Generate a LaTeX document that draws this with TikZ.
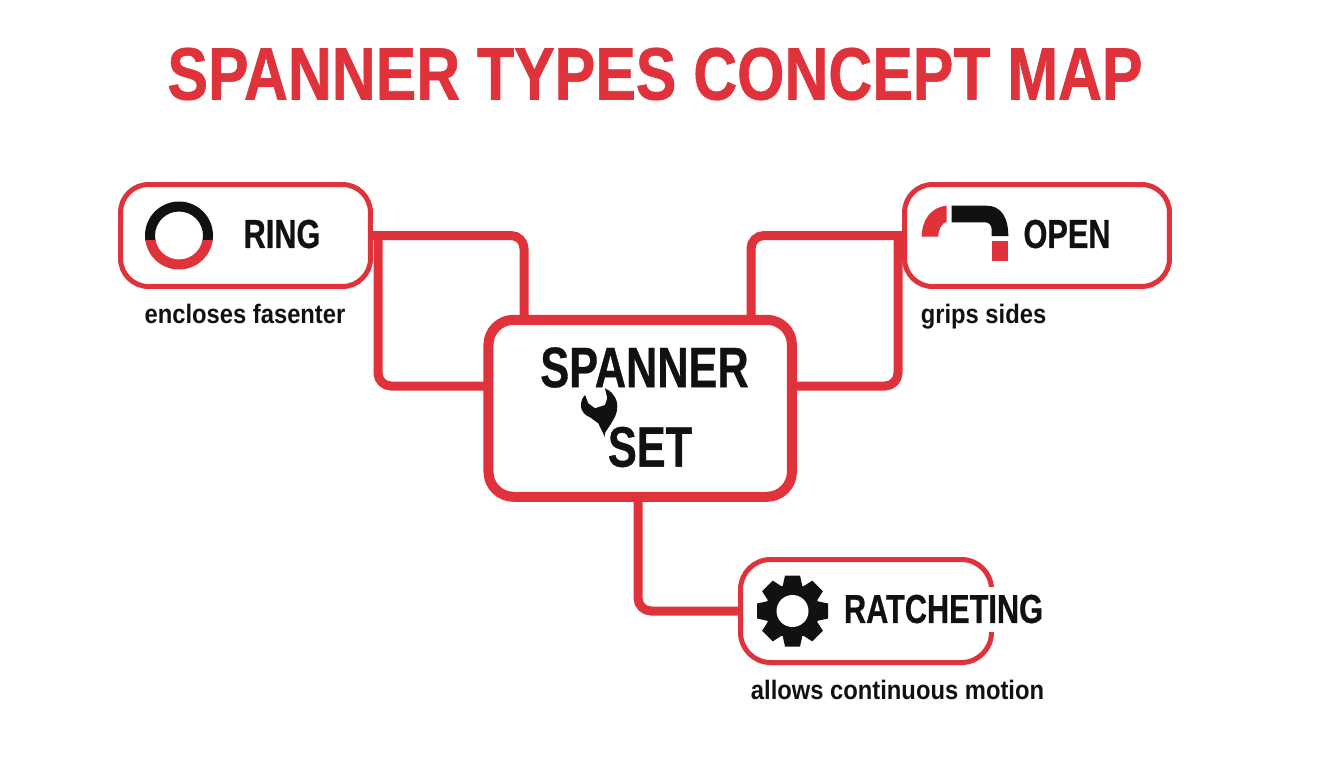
\documentclass[tikz,border=0pt]{standalone}
\usepackage{tikz}
\usepackage{xcolor}
\usepackage{fontspec}
\setmainfont{Liberation Sans}
\newfontfamily\titlefont[FakeStretch=0.82,FakeBold=0.8]{Liberation Sans Bold}
\newfontfamily\namefont[FakeStretch=0.76,FakeBold=0.6]{Liberation Sans Bold}
\newfontfamily\notefont[FakeStretch=0.89]{Liberation Sans Bold}
\definecolor{mapred}{HTML}{E0323A}
\definecolor{mapblack}{HTML}{111111}
\tikzset{
    mapbox/.style={draw=mapred, fill=white, line width=0.1cm, rounded corners=0.56cm, inner sep=0pt},
    maplink/.style={draw=mapred, line width=0.18cm, rounded corners=0.26cm},
    mapname/.style={font=\namefont\fontsize{23}{26}\selectfont, text=mapblack, inner sep=0pt},
    mapnote/.style={font=\notefont\fontsize{15.2}{18}\selectfont, text=mapblack, inner sep=0pt}
}

\begin{document}
\begin{tikzpicture}[x=0.02cm, y=-0.02cm]
    \useasboundingbox[fill=white] (0,0) rectangle (1344,768);
    \node[font=\titlefont\fontsize{42.2}{48}\selectfont, text=mapred, inner sep=0pt] (title) at (655,74) {SPANNER TYPES CONCEPT MAP};

    \coordinate (ringtop) at (524,330);
    \coordinate (ringdrop) at (378,386);
    \coordinate (opentop) at (751,330);
    \coordinate (opendrop) at (898,386);
    \coordinate (ratchetdrop) at (638,611);

    \node[mapbox, minimum width=5cm, minimum height=2.04cm] (ring) at (245.5,235.5) {};
    \node[mapbox, minimum width=5.3cm, minimum height=2.04cm] (open) at (1037,235.5) {};
    \node[mapbox, minimum width=5.02cm, minimum height=2.06cm, rounded corners=0.6cm] (ratchet) at (866,611) {};

    \draw[maplink] (ring.east) -| (ringtop);
    \draw[maplink] (ringdrop |- ring.east) -- (ringdrop) -- (ringtop |- ringdrop);
    \draw[maplink] (open.west) -| (opentop);
    \draw[maplink] (opendrop |- open.west) -- (opendrop) -- (opentop |- opendrop);
    \draw[maplink] (ratchetdrop |- 0,480) -- (ratchetdrop) -- (ratchet.west);

    \node[mapbox, line width=0.2cm, rounded corners=0.5cm, minimum width=6.07cm, minimum height=3.54cm] (hub) at (640.2,408.3) {};

    % ring icon
    \begin{scope}
        \clip (130,190) rectangle (230,240);
        \fill[mapblack, even odd rule] (179,235.5) circle (34) circle (24);
    \end{scope}
    \begin{scope}
        \clip (130,240) rectangle (230,280);
        \fill[mapred, even odd rule] (179,235.5) circle (34) circle (24);
    \end{scope}

    % open icon
    \fill[mapred] (921.7,236.7) .. controls (921.7,220) and (931,207) .. (946.7,205.7) -- (946.7,221.7) .. controls (942,223) and (938.3,229) .. (938.3,236.7) -- cycle;
    \fill[mapblack] (951.7,205.7) -- (986.7,205.7) .. controls (1000,205.7) and (1008.3,216) .. (1008.3,236) -- (991.7,236) -- (991.7,230) .. controls (991.7,225) and (989,222.3) .. (985,222.3) -- (951.7,222.3) -- cycle;
    \fill[mapred] (991.7,241) rectangle (1008.3,261);

    % gear icon
    \begin{scope}[shift={(792.5,611)}]
        \foreach \a in {0,45,...,315}
            \fill[mapblack, rotate=\a] (-10,-24) -- (-7.5,-35.5) -- (7.5,-35.5) -- (10,-24) -- cycle;
        \fill[mapblack] (0,0) circle (27);
        \fill[white] (0,0) circle (16);
    \end{scope}

    % wrench icon
    \fill[mapblack] (585,395) .. controls (582,398) and (581,402) .. (581,405) .. controls (581,409) and (582,411.5) .. (584,413.3) .. controls (586,415.5) and (588,416.5) .. (590,417.3) -- (598.3,423.3) -- (605,437.3) .. controls (604.5,433) and (605.5,431) .. (607.3,429.3) -- (610.7,424.3) -- (615,416.7) .. controls (616.5,413) and (617.3,410) .. (617.3,406.7) .. controls (617.3,402) and (616,398) .. (613.3,395) .. controls (611,391.5) and (608,389.5) .. (605,388.3) -- (607.3,398.3) -- (605,405) -- (595,408.3) -- (588.3,403.3) -- cycle;

    \node[mapname] (ringname) at (282,234) {RING};
    \node[mapname] (openname) at (1067,234) {OPEN};
    \node[mapname, fill=white, minimum height=0.9cm, inner xsep=2pt] (ratchetname) at (943.5,609) {RATCHETING};
    \node[mapname, font=\namefont\fontsize{32.4}{36}\selectfont] (hubtop) at (644.5,367.5) {SPANNER};
    \node[mapname, font=\namefont\fontsize{32.4}{36}\selectfont] (hubbottom) at (650,447) {SET};

    \node[mapnote] (ringnote) at (245,314) {encloses fasenter};
    \node[mapnote] (opennote) at (983.5,317) {grips sides};
    \node[mapnote] (ratchetnote) at (897.5,690) {allows continuous motion};
\end{tikzpicture}
\end{document}
